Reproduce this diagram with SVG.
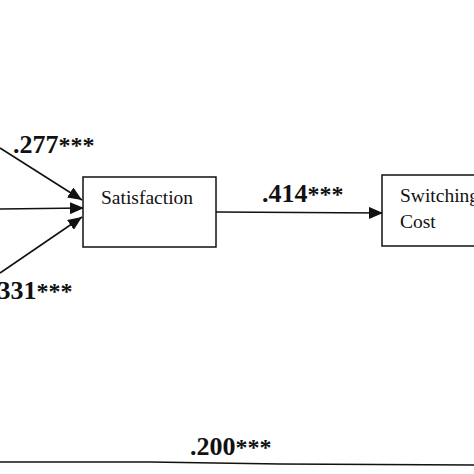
<svg xmlns="http://www.w3.org/2000/svg" width="474" height="474" viewBox="0 0 474 474">
<style>
.box{fill:#fff;stroke:#111;stroke-width:1.5}
.lbl{font-family:"Liberation Serif",serif;font-size:19.5px;fill:#111}
.coef{font-family:"Liberation Serif",serif;font-size:26px;font-weight:bold;fill:#111}
.ast{font-size:24px}
.ln{stroke:#111;stroke-width:1.6;fill:none}
</style>
<defs>
<marker id="ah" markerWidth="14" markerHeight="12" refX="14" refY="6" orient="auto" markerUnits="userSpaceOnUse">
<path d="M0,0 L14,6 L0,12 Z" fill="#111"/>
</marker>
</defs>
<rect width="474" height="474" fill="#fff"/>
<g id="connectors">
<line class="ln" x1="0" y1="148" x2="82" y2="200" marker-end="url(#ah)"/>
<line class="ln" x1="0" y1="209" x2="84" y2="208" marker-end="url(#ah)"/>
<line class="ln" x1="0" y1="273" x2="82" y2="217" marker-end="url(#ah)"/>
<line class="ln" x1="216" y1="212" x2="383" y2="213" marker-end="url(#ah)"/>
<polyline class="ln" stroke-width="2" points="0,462 150,462 280,464 474,465"/>
<text class="coef" x="13" y="153">.277<tspan class="ast">***</tspan></text>
<text class="coef" x="-9" y="299">.331<tspan class="ast">***</tspan></text>
<text class="coef" x="262" y="202">.414<tspan class="ast">***</tspan></text>
<text class="coef" x="190" y="455">.200<tspan class="ast">***</tspan></text>
</g>
<g id="satisfaction">
<rect class="box" x="83" y="177" width="133" height="70"/>
<text class="lbl" x="101" y="204">Satisfaction</text>
</g>
<g id="switching-cost">
<rect class="box" x="382" y="175" width="100" height="71"/>
<text class="lbl" x="400" y="202">Switching</text>
<text class="lbl" x="400" y="228">Cost</text>
</g>
</svg>
